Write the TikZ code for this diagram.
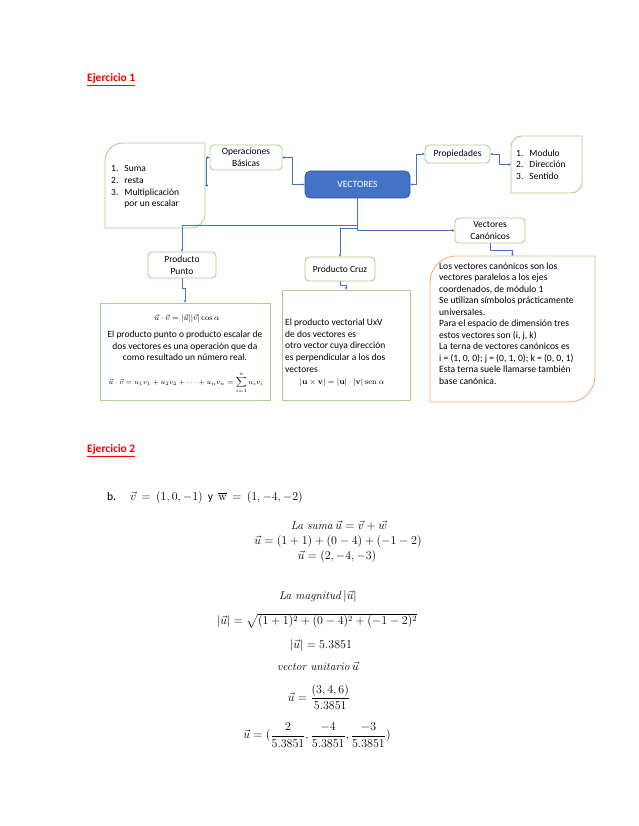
\documentclass[tikz,border=0pt]{standalone}
\usepackage{amsmath}
\usepackage[no-math]{fontspec}
\setmainfont{Carlito}
\usetikzlibrary{arrows.meta,calc}
\definecolor{gborder}{HTML}{A9D18E}
\definecolor{oborder}{HTML}{F4B183}
\definecolor{vblue}{HTML}{4472C4}
\definecolor{vblueline}{HTML}{2F528F}
\definecolor{conncol}{HTML}{4472C4}
\definecolor{hred}{HTML}{FF0000}
\newcommand\diagfont{\fontsize{9.5}{11.7}\selectfont}
\newcommand\mathsz{\fontsize{11.5}{14}\selectfont}
\newcommand\serifit[1]{{\fontfamily{lmr}\itshape #1}}
\begin{document}
\begin{tikzpicture}[x=1pt,y=-1pt,
  gbox/.style={draw=gborder, line width=0.9pt, rounded corners=4pt, fill=white, align=center, font=\diagfont, inner sep=0pt},
  sbox/.style={draw=gborder, line width=0.9pt, fill=white, inner sep=0pt},
  shape box/.style={inner sep=0pt},
  conn/.style={draw=conncol, line width=0.6pt},
  tipb/.style={{Stealth[length=2.5pt,width=2.5pt]}-{Stealth[length=2.5pt,width=2.5pt]}},
  tipe/.style={-{Stealth[length=2.5pt,width=2.5pt]}},
  txt/.style={font=\diagfont, inner sep=0pt},
  mth/.style={font=\mathsz, inner sep=0pt},
  head/.style={font=\fontsize{11.5}{13}\selectfont\bfseries, text=hred, inner sep=0pt, anchor=west}
]
\useasboundingbox (0,0) rectangle (638,826);

% headings
\node[head] (h1) at (87,80) {\underline{Ejercicio 1}};
\node[head] (h2) at (87,451) {\underline{Ejercicio 2}};

% ---------- diagram boxes ----------
\node[shape box, minimum width=100pt, minimum height=85pt] (lista) at (155,185.5) {};
\draw[draw=gborder, line width=0.9pt, fill=white]
  (105,161) arc[start angle=180, end angle=90, radius=18pt] -- (205,143) -- (205,214)
  arc[start angle=0, end angle=-90, radius=14pt] -- (105,228) -- cycle;
\node[txt, anchor=west] (listatxt) at (111,187) {\begin{tabular}{@{}l@{\hspace{6pt}}l@{}}1. & Suma\\ 2. & resta\\ 3. & Multiplicación\\ & por un escalar\end{tabular}};

\node[gbox, minimum width=72pt, minimum height=25pt] (ops) at (246,157.5) {Operaciones\\Básicas};

\node[draw=vblueline, line width=0.6pt, fill=vblue, rounded corners=5pt, minimum width=105pt, minimum height=27pt, text=white, font=\fontsize{9.6}{11}\selectfont, inner sep=0pt] (vec) at (357.5,184.5) {VECTORES};

\node[gbox, minimum width=65pt, minimum height=18pt] (prop) at (457.5,154) {Propiedades};

\node[shape box, minimum width=71pt, minimum height=57pt] (mod) at (546.5,164.5) {};
\draw[draw=gborder, line width=0.9pt, fill=white]
  (511,147) arc[start angle=180, end angle=90, radius=11pt] -- (582,136) -- (582,182)
  arc[start angle=0, end angle=-90, radius=11pt] -- (511,193) -- cycle;
\node[txt, anchor=west] (modtxt) at (516,165.5) {\begin{tabular}{@{}l@{\hspace{6pt}}l@{}}1. & Modulo\\ 2. & Dirección\\ 3. & Sentido\end{tabular}};

\node[gbox, minimum width=70pt, minimum height=25pt] (canon) at (490,230.5) {Vectores\\Canónicos};

\node[gbox, minimum width=68pt, minimum height=26pt] (punto) at (182,265) {Producto\\Punto};
\node[gbox, minimum width=70pt, minimum height=24pt] (cruz) at (340,269) {Producto Cruz};

% dot box
\node[sbox, minimum width=170pt, minimum height=97pt] (dotbox) at (185,351.5) {};
\node[inner sep=0pt, font=\fontsize{8.5}{10}\selectfont] (dotf1) at (187,318) {$\vec{u}\cdot\vec{v}=|\vec{u}||\vec{v}|\cos\alpha$};
\node[txt, align=center] (dottxt) at (185,346) {El producto punto o producto escalar de\\dos vectores es una operación que da\\como resultado un número real.};
\node[inner sep=0pt, font=\fontsize{6.8}{7.5}\selectfont] (dotf2) at (186,383) {$\vec{u}\cdot\vec{v}=u_1v_1+u_2v_2+\cdots+u_nv_n=\displaystyle\sum_{i=1}^{n}u_iv_i$};

% cross box
\node[sbox, minimum width=128pt, minimum height=110pt] (crossbox) at (346,345) {};
\node[txt, anchor=west, align=left] (crosstxt) at (285,345.5) {El producto vectorial UxV\\de dos vectores es\\otro vector cuya dirección\\es perpendicular a los dos\\vectores};
\node[inner sep=0pt, font=\fontsize{8.2}{9}\selectfont] (crossf) at (342,382) {$|\mathbf{u}\times\mathbf{v}|=|\mathbf{u}|\cdot|\mathbf{v}|\ \mathrm{sen}\ \alpha$};

% canonical box
\node[shape box, minimum width=165pt, minimum height=146pt] (cbox) at (512.5,329) {};
\draw[draw=oborder, line width=0.9pt, fill=white]
  (430,282) arc[start angle=180, end angle=90, radius=26pt] -- (595,256) -- (595,376)
  arc[start angle=0, end angle=-90, radius=26pt] -- (430,402) -- cycle;
\node[txt, anchor=west, align=left, font=\fontsize{9.6}{11.5}\selectfont] (ctxt) at (439,323.5) {Los vectores canónicos son los\\vectores paralelos a los ejes\\coordenados, de módulo 1\\Se utilizan símbolos prácticamente\\universales.\\Para el espacio de dimensión tres\\estos vectores son (i, j, k)\\La terna de vectores canónicos es\\i = (1, 0, 0); j = (0, 1, 0); k = (0, 0, 1)\\Esta terna suele llamarse también\\base canónica.};

% ---------- connectors ----------
\draw[conn, tipb] (vec.west) -- ++(-12,0) |- (ops.east);
\draw[conn, tipb] (ops.west) -- ++(-3,0) |- (lista.east);
\draw[conn, tipb] (vec.east) -- ++(6,0) |- (prop.west);
\draw[conn, tipb] (prop.east) -- ++(9,0) |- (mod.west);
\draw[conn, tipe] (vec.south) -- ++(0,27) -| (punto.north);
\draw[conn, tipe] (vec.south) -- ++(0,30) -| (cruz.north);
\draw[conn, tipe] (vec.south) |- (canon.west);
\draw[conn, tipe] (punto.south) -- ++(0,10) -| (dotbox.north);
\draw[conn, tipe] (cruz.south) -- ++(0,4) -| (crossbox.north);
\draw[conn, tipe] (canon.south) -- ++(0,7) -| (cbox.north);

% ---------- Ejercicio 2 ----------
\node[inner sep=0pt, anchor=west, font=\fontsize{11.5}{13}\selectfont] (b) at (107,497) {b.};
\node[mth, anchor=west] (vw) at (130,497) {$\vec{v}\,=\,(1,0,-1)$\ \ y\ \ $\overline{\mathrm{w}}\,=\,(1,-4,-2)$};
\node[mth] (s1) at (339,526) {\serifit{La suma} $\vec{u}=\vec{v}+\vec{w}$};
\node[mth] (s2) at (338,541) {$\vec{u}=(1+1)+(0-4)+(-1-2)$};
\node[mth] (s3) at (337,556) {$\vec{u}=(2,-4,-3)$};
\node[mth] (m1) at (318,596) {\serifit{La magnitud} $|\vec{u}|$};
\node[mth] (m2) at (317,621) {$|\vec{u}|=\sqrt{(1+1)^2+(0-4)^2+(-1-2)^2}$};
\node[mth] (m3) at (321,645) {$|\vec{u}|=5.3851$};
\node[mth] (m4) at (318,666) {\serifit{vector unitario} $\vec{u}$};
\node[mth] (m5) at (319,697) {$\vec{u}=\dfrac{(3,4,6)}{5.3851}$};
\node[mth] (m6) at (317,735) {$\vec{u}=(\dfrac{2}{5.3851},\dfrac{-4}{5.3851},\dfrac{-3}{5.3851})$};
\end{tikzpicture}
\end{document}
